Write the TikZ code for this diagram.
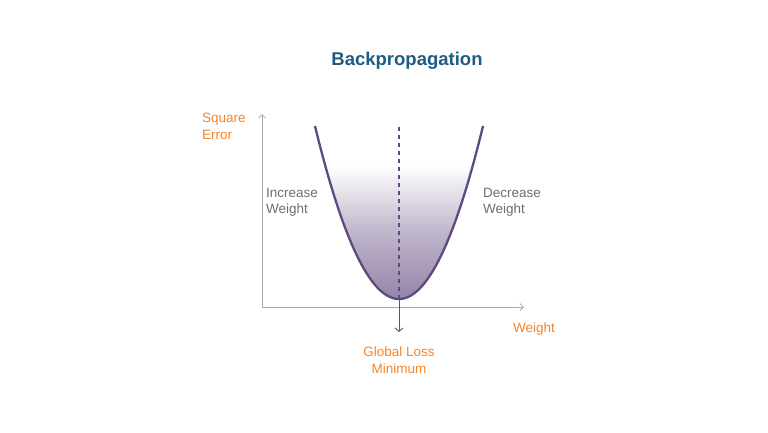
\documentclass[tikz,border=0pt]{standalone}
\usepackage{fontspec}
\setmainfont{Liberation Sans}
\usetikzlibrary{arrows.meta}
\definecolor{orangetxt}{HTML}{F4852A}
\definecolor{graytxt}{HTML}{6E6E6E}
\definecolor{titleblue}{HTML}{1F5B82}
\definecolor{curvecol}{HTML}{5C4A80}
\definecolor{fillcol}{HTML}{9585A8}
\definecolor{axiscol}{HTML}{A8A8A8}
\tikzset{
  lbl/.style={font=\fontsize{13.5}{16.5}\selectfont, align=left, inner sep=0pt},
  axisline/.style={draw=axiscol, line width=0.9pt, -{Straight Barb[length=3.5pt,width=7pt,line width=0.8pt]}},
}
\begin{document}
\begin{tikzpicture}[x=1pt,y=-1pt]
\useasboundingbox (0,0) rectangle (768,432);
% shaded region
\shade[top color=white, bottom color=fillcol, middle color=fillcol!60]
  plot[domain=325.1:472.9, samples=80] ({\x},{299-0.02452*(\x-399)^2}) -- cycle;
% axes
\coordinate (O) at (262,307);
\coordinate (ytop) at (262,114);
\coordinate (xend) at (524,307);
\draw[axisline] (O) -- (ytop);
\draw[axisline] (O) -- (xend);
% curve
\draw[curvecol, line width=2.3pt]
  plot[domain=315:483, samples=120] ({\x},{299-0.02452*(\x-399)^2});
\coordinate (vtx) at (399,299);
\coordinate (dtop) at (399,123);
\draw[curvecol, line width=1.4pt, dash pattern=on 4.5pt off 3.5pt] (vtx) -- (dtop);
% min arrow
\coordinate (mend) at (399,332);
\draw[draw=graytxt!80!black, line width=1pt, -{Straight Barb[length=3.5pt,width=8pt,line width=0.9pt]}] (vtx) -- (mend);
% labels
\node[font=\fontsize{18.5}{20}\selectfont\bfseries, text=titleblue] (title) at (407,61) {Backpropagation};
\node[lbl, text=orangetxt, anchor=north west] (sq) at (202,113) {Square\\Error};
\node[lbl, text=graytxt, anchor=north west] (inc) at (266,188) {Increase\\Weight};
\node[lbl, text=graytxt, anchor=north west] (dec) at (483,188) {Decrease\\Weight};
\node[lbl, text=orangetxt, anchor=west] (wt) at (513,329) {Weight};
\node[lbl, text=orangetxt, align=center, anchor=north] (glm) at (399,347) {Global Loss\\Minimum};
\end{tikzpicture}
\end{document}
